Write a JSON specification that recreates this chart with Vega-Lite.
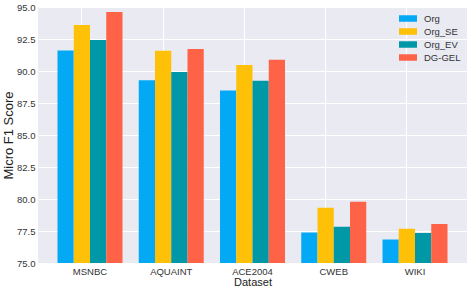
{
  "$schema": "https://vega.github.io/schema/vega-lite/v6.json",
  "width": 429,
  "height": 256,
  "autosize": {"type": "none"},
  "padding": {"left": 38, "top": 7, "right": 7, "bottom": 26},
  "background": "white",
  "config": {
    "font": "Liberation Sans",
    "view": {"fill": "#EAEAF2", "stroke": null},
    "axis": {
      "domain": false,
      "ticks": false,
      "gridColor": "white",
      "gridWidth": 1,
      "gridOpacity": 1,
      "labelColor": "#333333",
      "labelFontSize": 9.5,
      "titleColor": "#222222",
      "titleFontWeight": "normal"
    }
  },
  "data": {
    "values": [
      {"dataset": "MSNBC", "model": "Org", "score": 91.61},
      {"dataset": "MSNBC", "model": "Org_SE", "score": 93.59},
      {"dataset": "MSNBC", "model": "Org_EV", "score": 92.42},
      {"dataset": "MSNBC", "model": "DG-GEL", "score": 94.61},
      {"dataset": "AQUAINT", "model": "Org", "score": 89.27},
      {"dataset": "AQUAINT", "model": "Org_SE", "score": 91.59},
      {"dataset": "AQUAINT", "model": "Org_EV", "score": 89.92},
      {"dataset": "AQUAINT", "model": "DG-GEL", "score": 91.72},
      {"dataset": "ACE2004", "model": "Org", "score": 88.48},
      {"dataset": "ACE2004", "model": "Org_SE", "score": 90.47},
      {"dataset": "ACE2004", "model": "Org_EV", "score": 89.24},
      {"dataset": "ACE2004", "model": "DG-GEL", "score": 90.88},
      {"dataset": "CWEB", "model": "Org", "score": 77.39},
      {"dataset": "CWEB", "model": "Org_SE", "score": 79.32},
      {"dataset": "CWEB", "model": "Org_EV", "score": 77.84},
      {"dataset": "CWEB", "model": "DG-GEL", "score": 79.79},
      {"dataset": "WIKI", "model": "Org", "score": 76.84},
      {"dataset": "WIKI", "model": "Org_SE", "score": 77.68},
      {"dataset": "WIKI", "model": "Org_EV", "score": 77.34},
      {"dataset": "WIKI", "model": "DG-GEL", "score": 78.05}
    ]
  },
  "mark": {"type": "bar", "clip": true},
  "encoding": {
    "x": {
      "field": "dataset",
      "type": "nominal",
      "sort": ["MSNBC", "AQUAINT", "ACE2004", "CWEB", "WIKI"],
      "scale": {"paddingInner": 0.2, "paddingOuter": 0.24},
      "axis": {
        "title": "Dataset",
        "titleFontSize": 11,
        "labelAngle": 0,
        "grid": true,
        "bandPosition": 0.375,
        "labelPadding": 3,
        "titlePadding": 1
      }
    },
    "xOffset": {
      "field": "model",
      "type": "nominal",
      "sort": ["Org", "Org_SE", "Org_EV", "DG-GEL"],
      "scale": {"paddingInner": 0, "paddingOuter": 0}
    },
    "y": {
      "field": "score",
      "type": "quantitative",
      "scale": {"domain": [75, 95], "zero": false, "nice": false},
      "axis": {
        "title": "Micro F1 Score",
        "titleFontSize": 13,
        "values": [75, 77.5, 80, 82.5, 85, 87.5, 90, 92.5, 95],
        "format": ".1f",
        "labelPadding": 3,
        "titlePadding": 1
      }
    },
    "color": {
      "field": "model",
      "type": "nominal",
      "sort": ["Org", "Org_SE", "Org_EV", "DG-GEL"],
      "scale": {
        "domain": ["Org", "Org_SE", "Org_EV", "DG-GEL"],
        "range": ["#03A9F4", "#FFC107", "#0097A7", "#FF6347"]
      },
      "legend": {
        "title": null,
        "orient": "none",
        "legendX": 361,
        "legendY": 5,
        "symbolType": "M-1,-0.35H1V0.35H-1Z",
        "symbolSize": 324,
        "symbolStrokeWidth": 0,
        "symbolOpacity": 1,
        "labelFontSize": 9.5,
        "labelColor": "#333333",
        "labelOffset": 7,
        "clipHeight": 13,
        "rowPadding": 0
      }
    }
  }
}
